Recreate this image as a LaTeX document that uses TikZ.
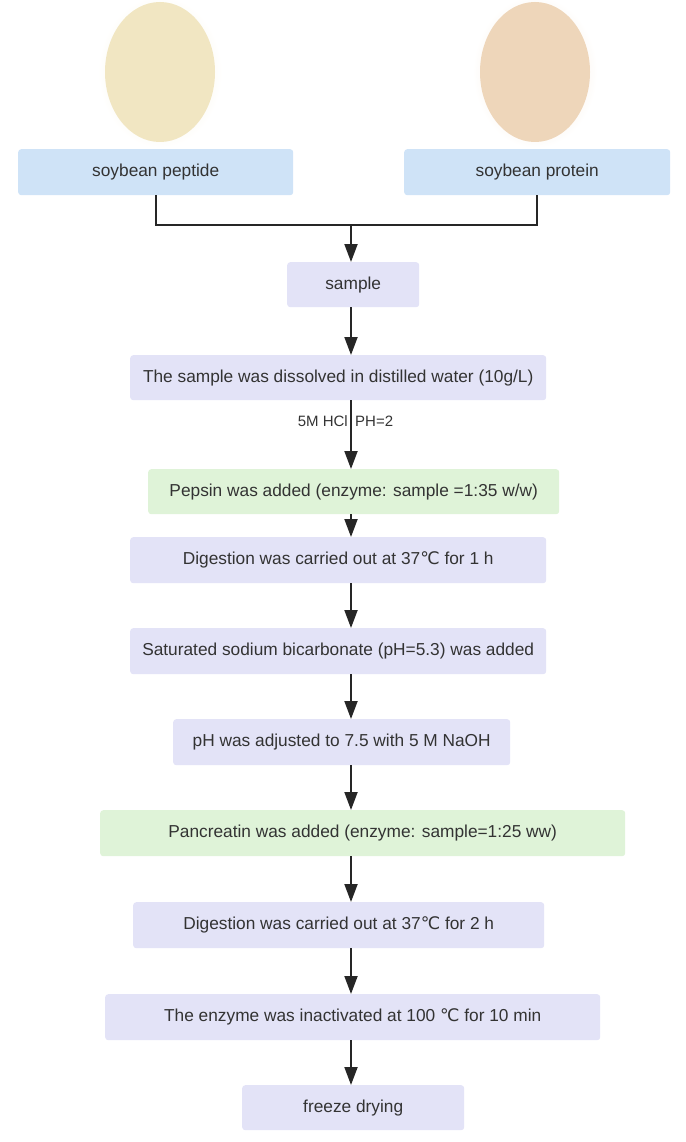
\documentclass[tikz,border=0pt]{standalone}
\usepackage{fontspec}
\setmainfont{Liberation Sans}
\newfontfamily\dejavu{DejaVu Sans}
\newcommand{\degC}{{\dejavu ℃}}
\usetikzlibrary{arrows.meta}
\definecolor{bluebox}{HTML}{CFE3F7}
\definecolor{lavbox}{HTML}{E3E3F7}
\definecolor{greenbox}{HTML}{DFF3D8}
\definecolor{pwA}{HTML}{F1E6C2}
\definecolor{pwB}{HTML}{EED6BA}
\definecolor{txt}{HTML}{333333}
\begin{document}
\begin{tikzpicture}[x=1pt,y=-1pt,
  box/.style={rounded corners=3pt,anchor=north west,inner sep=0pt,text=txt,font=\fontsize{17.3}{20}\selectfont},
  arr/.style={-{Triangle[length=18pt,width=13pt]},line width=2pt,draw=black!85},
  ln/.style={line width=2pt,draw=black!85}]
\useasboundingbox (0,0) rectangle (685,1142);
\shade[inner color=pwA!80!white, outer color=white] (160,72) ellipse (62 and 76);
\fill[pwA] (160,72) ellipse (55 and 70);
\shade[inner color=pwB!80!white, outer color=white] (535,72) ellipse (62 and 76);
\fill[pwB] (535,72) ellipse (55 and 70);
\newcommand{\bx}[7]{\node[box,fill=#2,minimum width=#5-#3,minimum height=#6-#4] (#1) at (#3,#4) {#7};}
\bx{pep}{bluebox}{18}{149}{293}{195}{soybean peptide}
\bx{pro}{bluebox}{404}{149}{670}{195}{soybean protein}
\bx{smp}{lavbox}{287}{262}{419}{307}{sample}
\bx{dis}{lavbox}{130}{355}{546}{400}{The sample was dissolved in distilled water (10g/L)}
\bx{pepsin}{greenbox}{148}{469}{559}{514}{Pepsin was added (enzyme: sample =1:35 w/w)}
\bx{dg1}{lavbox}{130}{537}{546}{583}{Digestion was carried out at 37\degC{} for 1 h}
\bx{sat}{lavbox}{130}{628}{546}{674}{Saturated sodium bicarbonate (pH=5.3) was added}
\bx{ph}{lavbox}{173}{719}{510}{765}{pH was adjusted to 7.5 with 5 M NaOH}
\bx{pan}{greenbox}{100}{810}{625}{856}{Pancreatin was added (enzyme: sample=1:25 ww)}
\bx{dg2}{lavbox}{133}{902}{544}{948}{Digestion was carried out at 37\degC{} for 2 h}
\bx{ina}{lavbox}{105}{994}{600}{1040}{The enzyme was inactivated at 100 \degC{} for 10 min}
\bx{frz}{lavbox}{242}{1085}{464}{1130}{freeze drying}
\coordinate (col) at (351,0);
\coordinate (j) at (351,225);
\draw[ln] (pep.south) |- (j);
\draw[ln] (pro.south) |- (j);
\draw[arr] (j) -- (smp.north -| col);
\foreach \a/\b in {smp/dis,dis/pepsin,pepsin/dg1,dg1/sat,sat/ph,ph/pan,pan/dg2,dg2/ina,ina/frz}
  \draw[arr] (\a.south -| col) -- (\b.north -| col);
\node[text=txt,font=\fontsize{15}{18}\selectfont,anchor=east,inner sep=1pt] (hcl) at (349,421) {5M HCl};
\node[text=txt,font=\fontsize{15}{18}\selectfont,anchor=west,inner sep=1pt] (phl) at (354,421) {PH=2};
\end{tikzpicture}
\end{document}
